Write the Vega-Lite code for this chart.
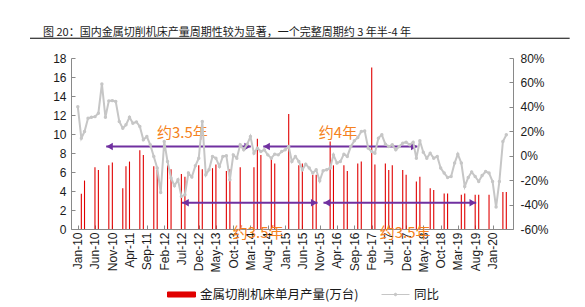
{
  "$schema": "https://vega.github.io/schema/vega-lite/v6.json",
  "autosize": "none",
  "width": 442,
  "height": 171,
  "padding": {"left": 71, "top": 58, "right": 72, "bottom": 78},
  "background": "white",
  "title": {
    "text": "图 20：国内金属切削机床产量周期性较为显著，一个完整周期约 3 年半-4 年",
    "anchor": "start", "frame": "group", "dx": -28, "offset": 0,
    "font": "Noto Sans CJK SC", "fontSize": 11, "fontWeight": "normal", "color": "#1a1a1a"
  },
  "config": {
    "view": {"stroke": null},
    "axis": {"grid": false, "labelFont": "Liberation Sans", "labelFontSize": 12, "labelColor": "#1a1a1a", "domainColor": "#898989", "tickColor": "#898989"}
  },
  "datasets": {
    "bars": [
      {"month":"2010-02-01","value":3.7},{"month":"2010-03-01","value":5.1},
      {"month":"2010-06-01","value":6.5},{"month":"2010-07-01","value":6.2},
      {"month":"2010-10-01","value":6.7},{"month":"2010-11-01","value":7.0},
      {"month":"2011-02-01","value":4.3},{"month":"2011-03-01","value":6.6},{"month":"2011-04-01","value":7.1},
      {"month":"2011-07-01","value":8.3},{"month":"2011-08-01","value":7.8},
      {"month":"2011-11-01","value":6.6},{"month":"2011-12-01","value":6.2},
      {"month":"2012-03-01","value":6.7},{"month":"2012-04-01","value":6.3},
      {"month":"2012-07-01","value":5.8},{"month":"2012-08-01","value":5.5},
      {"month":"2012-12-01","value":6.7},{"month":"2013-01-01","value":6.3},
      {"month":"2013-04-01","value":6.4},{"month":"2013-05-01","value":6.8},
      {"month":"2013-08-01","value":6.1},{"month":"2013-09-01","value":6.3},
      {"month":"2013-12-01","value":6.5},
      {"month":"2014-04-01","value":6.5},{"month":"2014-05-01","value":9.5},{"month":"2014-06-01","value":7.8},
      {"month":"2014-09-01","value":7.5},{"month":"2014-10-01","value":6.9},
      {"month":"2015-02-01","value":12.1},
      {"month":"2015-05-01","value":6.7},{"month":"2015-06-01","value":6.9},
      {"month":"2015-09-01","value":5.7},{"month":"2015-10-01","value":5.7},
      {"month":"2016-02-01","value":9.2},{"month":"2016-03-01","value":6.7},
      {"month":"2016-06-01","value":6.7},{"month":"2016-07-01","value":6.1},
      {"month":"2016-10-01","value":6.9},{"month":"2016-11-01","value":7.1},
      {"month":"2017-02-01","value":17.0},{"month":"2017-03-01","value":6.8},
      {"month":"2017-06-01","value":6.9},{"month":"2017-07-01","value":6.2},{"month":"2017-08-01","value":6.7},
      {"month":"2017-11-01","value":6.2},{"month":"2017-12-01","value":5.7},
      {"month":"2018-03-01","value":5.0},{"month":"2018-04-01","value":5.5},
      {"month":"2018-07-01","value":4.3},{"month":"2018-08-01","value":4.1},
      {"month":"2018-11-01","value":3.75},{"month":"2018-12-01","value":3.75},
      {"month":"2019-04-01","value":3.6},{"month":"2019-05-01","value":3.75},
      {"month":"2019-08-01","value":3.6},{"month":"2019-09-01","value":3.6},
      {"month":"2019-12-01","value":3.6},
      {"month":"2020-04-01","value":3.9},{"month":"2020-05-01","value":3.9}
    ],
    "yoy": [
      {"month":"2010-01-01","change":40},{"month":"2010-02-01","change":14.4},{"month":"2010-03-01","change":19.8},
      {"month":"2010-04-01","change":30.7},{"month":"2010-05-01","change":31.5},{"month":"2010-06-01","change":32},
      {"month":"2010-07-01","change":34.8},{"month":"2010-08-01","change":58.8},{"month":"2010-09-01","change":31.5},
      {"month":"2010-10-01","change":44.9},{"month":"2010-11-01","change":45.1},{"month":"2010-12-01","change":44.3},
      {"month":"2011-01-01","change":28},{"month":"2011-02-01","change":22.5},{"month":"2011-03-01","change":25.3},
      {"month":"2011-04-01","change":31.5},{"month":"2011-05-01","change":26.6},{"month":"2011-06-01","change":27.7},
      {"month":"2011-07-01","change":23.9},{"month":"2011-08-01","change":13},{"month":"2011-09-01","change":15.7},
      {"month":"2011-10-01","change":8.9},{"month":"2011-11-01","change":-0.6},{"month":"2011-12-01","change":-10.1},
      {"month":"2012-01-01","change":-30.1},{"month":"2012-02-01","change":11.6},{"month":"2012-03-01","change":-4.7},
      {"month":"2012-04-01","change":-18.3},{"month":"2012-05-01","change":-24.6},{"month":"2012-06-01","change":-19.7},
      {"month":"2012-07-01","change":-33.3},{"month":"2012-08-01","change":-32},{"month":"2012-09-01","change":-14.2},
      {"month":"2012-10-01","change":-17.5},{"month":"2012-11-01","change":-8.3},{"month":"2012-12-01","change":-2},
      {"month":"2013-01-01","change":28},{"month":"2013-02-01","change":-15.6},{"month":"2013-03-01","change":-11.5},
      {"month":"2013-04-01","change":-0.6},{"month":"2013-05-01","change":-2},{"month":"2013-06-01","change":-8.8},
      {"month":"2013-07-01","change":-0.6},{"month":"2013-08-01","change":0},{"month":"2013-09-01","change":-19.7},
      {"month":"2013-10-01","change":0.7},{"month":"2013-11-01","change":-2},{"month":"2013-12-01","change":8.9},
      {"month":"2014-01-01","change":4.8},{"month":"2014-02-01","change":9.5},{"month":"2014-03-01","change":15.7},
      {"month":"2014-04-01","change":2.1},{"month":"2014-05-01","change":6.2},{"month":"2014-06-01","change":3.4},
      {"month":"2014-07-01","change":4.8},{"month":"2014-08-01","change":0.7},{"month":"2014-09-01","change":-2},
      {"month":"2014-10-01","change":1.3},{"month":"2014-11-01","change":0.7},{"month":"2014-12-01","change":3.4},
      {"month":"2015-01-01","change":4.8},{"month":"2015-02-01","change":7.5},{"month":"2015-03-01","change":-4.7},
      {"month":"2015-04-01","change":-0.6},{"month":"2015-05-01","change":-4.7},{"month":"2015-06-01","change":-11.5},
      {"month":"2015-07-01","change":-6.9},{"month":"2015-08-01","change":-10.1},{"month":"2015-09-01","change":-14.2},
      {"month":"2015-10-01","change":-11.5},{"month":"2015-11-01","change":-20.5},{"month":"2015-12-01","change":-12.3},
      {"month":"2016-01-01","change":-11.5},{"month":"2016-02-01","change":-10.1},{"month":"2016-03-01","change":0.7},
      {"month":"2016-04-01","change":-6},{"month":"2016-05-01","change":-4.7},{"month":"2016-06-01","change":1.3},
      {"month":"2016-07-01","change":-0.6},{"month":"2016-08-01","change":7.5},{"month":"2016-09-01","change":12.2},
      {"month":"2016-10-01","change":14.9},{"month":"2016-11-01","change":19.8},{"month":"2016-12-01","change":20.3},
      {"month":"2017-01-01","change":6.2},{"month":"2017-02-01","change":3.4},{"month":"2017-03-01","change":2.1},
      {"month":"2017-04-01","change":14.4},{"month":"2017-05-01","change":17.1},{"month":"2017-06-01","change":9.5},
      {"month":"2017-07-01","change":7.5},{"month":"2017-08-01","change":8.9},{"month":"2017-09-01","change":4.8},
      {"month":"2017-10-01","change":7.5},{"month":"2017-11-01","change":10.3},{"month":"2017-12-01","change":11.1},
      {"month":"2018-01-01","change":8.9},{"month":"2018-02-01","change":11.1},{"month":"2018-03-01","change":-2},
      {"month":"2018-04-01","change":12.2},{"month":"2018-05-01","change":2.9},{"month":"2018-06-01","change":-2},
      {"month":"2018-07-01","change":2.1},{"month":"2018-08-01","change":-2},{"month":"2018-09-01","change":-0.6},
      {"month":"2018-10-01","change":-10.1},{"month":"2018-11-01","change":-14.2},{"month":"2018-12-01","change":-17.8},
      {"month":"2019-01-01","change":-17},{"month":"2019-02-01","change":-6},{"month":"2019-03-01","change":1.3},
      {"month":"2019-04-01","change":-6},{"month":"2019-05-01","change":-25.2},{"month":"2019-06-01","change":-17.8},
      {"month":"2019-07-01","change":-13.4},{"month":"2019-08-01","change":-17},{"month":"2019-09-01","change":-21.1},
      {"month":"2019-10-01","change":-16.2},{"month":"2019-11-01","change":-12.9},{"month":"2019-12-01","change":-14.2},
      {"month":"2020-01-01","change":-21.1},{"month":"2020-02-01","change":-42},{"month":"2020-03-01","change":-21.1},
      {"month":"2020-04-01","change":11.6},{"month":"2020-05-01","change":17.1}
    ],
    "arrows": [
      {"month":"2010-09-08","end":"2014-03-04","value":8.68},
      {"month":"2014-06-22","end":"2018-03-10","value":8.68},
      {"month":"2012-07-07","end":"2015-10-13","value":2.77},
      {"month":"2015-12-04","end":"2019-08-10","value":2.77}
    ],
    "heads": [
      {"month":"2010-10-08","value":8.68,"direction":"left"},
      {"month":"2014-02-04","value":8.68,"direction":"right"},
      {"month":"2014-07-22","value":8.68,"direction":"left"},
      {"month":"2018-02-10","value":8.68,"direction":"right"},
      {"month":"2012-08-07","value":2.77,"direction":"left"},
      {"month":"2015-09-13","value":2.77,"direction":"right"},
      {"month":"2016-01-04","value":2.77,"direction":"left"},
      {"month":"2019-07-10","value":2.77,"direction":"right"}
    ],
    "labels": [
      {"month":"2012-07-10","value":10.1,"label":"约3.5年"},
      {"month":"2016-04-10","value":10.15,"label":"约4年"},
      {"month":"2014-05-07","value":-0.4,"label":"约3.5年"},
      {"month":"2017-11-22","value":-0.4,"label":"约3.5年"}
    ],
    "underline": [
      {"month":"2008-11-06","end":"2021-11-10","value":20.08}
    ]
  },
  "encoding": {
    "x": {
      "field": "month", "type": "temporal",
      "scale": {"type": "utc", "domain": [{"year":2009,"month":12,"date":16,"utc":true},{"year":2020,"month":5,"date":16,"utc":true}]},
      "axis": {
        "title": null,
        "values": [
          {"year":2010,"month":1,"date":1,"utc":true},{"year":2010,"month":6,"date":1,"utc":true},{"year":2010,"month":11,"date":1,"utc":true},
          {"year":2011,"month":4,"date":1,"utc":true},{"year":2011,"month":9,"date":1,"utc":true},
          {"year":2012,"month":2,"date":1,"utc":true},{"year":2012,"month":7,"date":1,"utc":true},{"year":2012,"month":12,"date":1,"utc":true},
          {"year":2013,"month":5,"date":1,"utc":true},{"year":2013,"month":10,"date":1,"utc":true},
          {"year":2014,"month":3,"date":1,"utc":true},{"year":2014,"month":8,"date":1,"utc":true},
          {"year":2015,"month":1,"date":1,"utc":true},{"year":2015,"month":6,"date":1,"utc":true},{"year":2015,"month":11,"date":1,"utc":true},
          {"year":2016,"month":4,"date":1,"utc":true},{"year":2016,"month":9,"date":1,"utc":true},
          {"year":2017,"month":2,"date":1,"utc":true},{"year":2017,"month":7,"date":1,"utc":true},{"year":2017,"month":12,"date":1,"utc":true},
          {"year":2018,"month":5,"date":1,"utc":true},{"year":2018,"month":10,"date":1,"utc":true},
          {"year":2019,"month":3,"date":1,"utc":true},{"year":2019,"month":8,"date":1,"utc":true},
          {"year":2020,"month":1,"date":1,"utc":true}
        ],
        "labelExpr": "utcFormat(datum.value, '%b-%y')",
        "labelAngle": 270, "labelOverlap": false, "labelFlush": false,
        "tickSize": -4, "labelPadding": 7
      }
    }
  },
  "layer": [
    {
      "encoding": {
        "y": {
          "field": "value", "type": "quantitative",
          "scale": {"domain": [0, 18], "nice": false},
          "axis": {"title": null, "values": [0,2,4,6,8,10,12,14,16,18], "tickSize": -4, "labelPadding": 9}
        }
      },
      "layer": [
        {
          "data": {"name": "bars"},
          "mark": {"type": "bar", "size": 1.1},
          "encoding": {
            "color": {
              "datum": "金属切削机床单月产量(万台)", "type": "nominal",
              "scale": {"domain": ["金属切削机床单月产量(万台)", "同比"], "range": ["#e00000", "#c6c6c6"]},
              "legend": {
                "title": null, "orient": "none", "direction": "horizontal", "legendX": 96, "legendY": 222,
                "labelFont": "Noto Sans CJK SC", "labelFontSize": 12.5, "labelColor": "#1a1a1a",
                "symbolSize": 784, "labelOffset": 4, "columnPadding": 20,
                "encode": {"symbols": {"update": {
                  "shape": {"signal": "datum.value === '同比' ? 'M-1,0H1M-0.09,0A0.09,0.09 0 1,1 0.09,0A0.09,0.09 0 1,1 -0.09,0' : 'M-1,-0.18H1V0.18H-1Z'"},
                  "fill": {"signal": "datum.value === '同比' ? 'transparent' : '#e00000'"},
                  "stroke": {"signal": "datum.value === '同比' ? '#b4b4b4' : 'transparent'"},
                  "strokeWidth": {"value": 1}
                }}}
              }
            }
          }
        },
        {
          "data": {"name": "underline"},
          "mark": {"type": "rule", "color": "#000000", "strokeWidth": 1},
          "encoding": {"x2": {"field": "end"}}
        },
        {
          "data": {"name": "arrows"},
          "mark": {"type": "rule", "color": "#7030a0", "strokeWidth": 2},
          "encoding": {"x2": {"field": "end"}}
        },
        {
          "data": {"name": "heads"},
          "mark": {"type": "point", "filled": true, "color": "#7030a0", "opacity": 1, "size": 55},
          "encoding": {
            "shape": {"field": "direction", "type": "nominal", "scale": {"domain": ["left", "right"], "range": ["triangle-left", "triangle-right"]}, "legend": null}
          }
        },
        {
          "data": {"name": "labels"},
          "mark": {"type": "text", "font": "Noto Sans CJK SC", "fontSize": 15, "color": "#f58220", "align": "center", "baseline": "middle"},
          "encoding": {"text": {"field": "label"}}
        }
      ]
    },
    {
      "data": {"name": "yoy"},
      "mark": {"type": "line", "strokeWidth": 2, "point": {"filled": true, "size": 12}},
      "encoding": {
        "y": {
          "field": "change", "type": "quantitative",
          "scale": {"domain": [-60, 80], "nice": false},
          "axis": {"orient": "right", "title": null, "values": [-60,-40,-20,0,20,40,60,80], "labelExpr": "datum.value + '%'", "tickSize": -4, "labelPadding": 11}
        },
        "color": {"datum": "同比", "type": "nominal"}
      }
    }
  ],
  "resolve": {"scale": {"y": "independent"}}
}
